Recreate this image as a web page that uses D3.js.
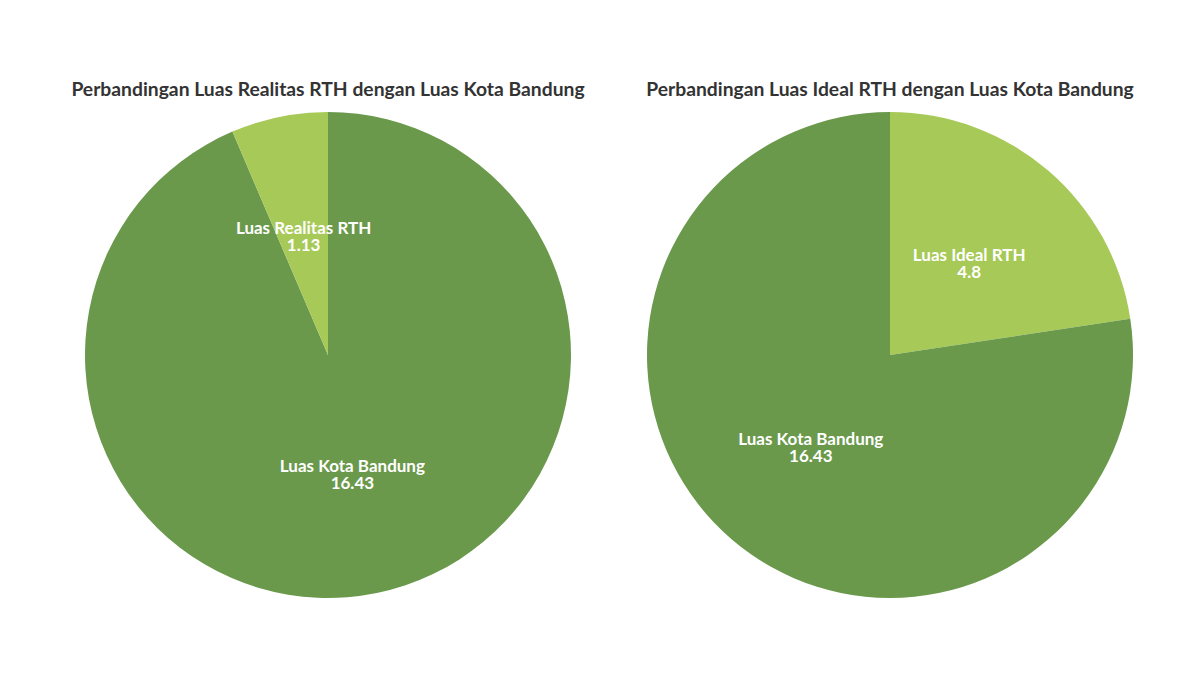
<!DOCTYPE html>
<html>
<head>
<meta charset="utf-8">
<script src="https://cdn.jsdelivr.net/npm/d3@7"></script>
<style>
  body { margin: 0; background: #fff; }
  svg text { font-family: "Source Sans Pro", Lato, "Noto Sans", sans-serif; font-weight: bold; }
</style>
</head>
<body>
<svg id="chart" width="1200" height="675"></svg>
<script>
// data
const realitasLabels = ["Luas Kota Bandung", "Luas Realitas RTH"]
const realitasValues = [16.43, 1.13]
const idealLabels = ["Luas Ideal RTH", "Luas Kota Bandung"]
const idealValues = [4.8, 16.43]
const titles = [
  "Perbandingan Luas Realitas RTH dengan Luas Kota Bandung",
  "Perbandingan Luas Ideal RTH dengan Luas Kota Bandung"
]

const colors = {"Luas Kota Bandung": "#6a994c", "Luas Realitas RTH": "#a7c957", "Luas Ideal RTH": "#a7c957"}

const svg = d3.select("#chart")
const radius = 243

function drawPie(cx, cy, title, labels, values) {
  let g = svg.append("g").attr("transform", "translate(" + cx + "," + cy + ")")

  let data = labels.map((l, i) => ({label: l, value: values[i]}))
  let pie = d3.pie().sort(null).value((d) => d.value)
  let arc = d3.arc().innerRadius(0).outerRadius(radius)
  let arcs = pie(data)

  g.selectAll("path.slice")
    .data(arcs)
    .enter().append("path")
    .attr("class", "slice")
    .attr("d", arc)
    .attr("fill", (d) => colors[d.data.label])

  let lab = g.selectAll("text.lab")
    .data(arcs)
    .enter().append("text")
    .attr("class", "lab")
    .attr("text-anchor", "middle")
    .attr("fill", "#fff")
    .style("font-size", "17px")

  // two lines: name, then value
  lab.append("tspan")
    .attr("x", (d) => arc.centroid(d)[0])
    .attr("y", (d) => arc.centroid(d)[1] - 2)
    .text((d) => d.data.label)
  lab.append("tspan")
    .attr("x", (d) => arc.centroid(d)[0])
    .attr("y", (d) => arc.centroid(d)[1] + 15)
    .text((d) => d.data.value)

  svg.append("text")
    .attr("x", cx)
    .attr("y", 96)
    .attr("text-anchor", "middle")
    .attr("fill", "#333")
    .style("font-size", "19.3px")
    .text(title)
}

drawPie(328, 355, titles[0], realitasLabels, realitasValues)
drawPie(890, 355, titles[1], idealLabels, idealValues)
</script>
</body>
</html>
